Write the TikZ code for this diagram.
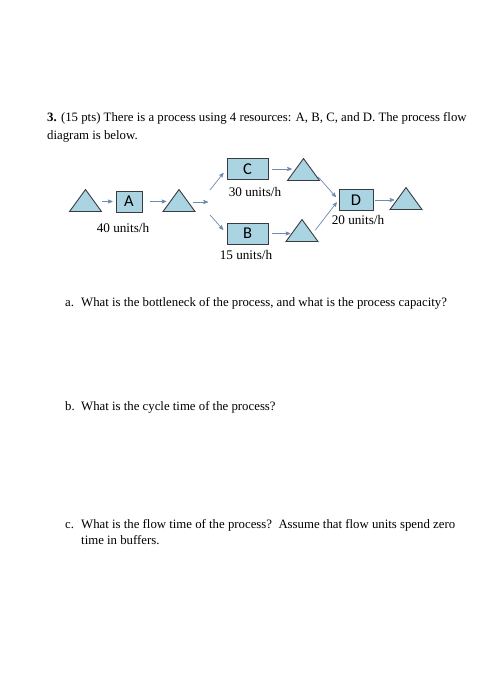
\documentclass[tikz,border=0pt]{standalone}
\usepackage{fontspec}
\setmainfont{Liberation Serif}
\newfontfamily\boxfont{Carlito}
\usetikzlibrary{arrows, positioning, shapes.geometric}
\definecolor{bufferblue}{RGB}{170,212,226}
\definecolor{flowblue}{RGB}{112,138,176}
\definecolor{edgegray}{RGB}{55,60,65}

\begin{document}
\begin{tikzpicture}[x=1pt,y=-1pt,>=stealth',font=\fontsize{12.8}{14.5}\selectfont]
  \tikzstyle{every node}=[inner sep=0pt]
  \tikzstyle{buffer}=[isosceles triangle,shape border rotate=90,isosceles triangle stretches,
    minimum width=32pt,minimum height=22pt,fill=bufferblue,draw=edgegray,line width=0.9pt,anchor=south]
  \tikzstyle{resource}=[rectangle,fill=bufferblue,draw=edgegray,line width=0.9pt,
    minimum height=21pt,font=\boxfont\fontsize{16.5}{16.5}\selectfont]
  \tikzstyle{rate}=[font=\fontsize{13.2}{14}\selectfont]
  \tikzstyle{flow}=[->,draw=flowblue,line width=0.7pt]

  \fill[white] (0,0) rectangle (501,700);
  \useasboundingbox (0,0) rectangle (501,700);

  % question
  \node[anchor=west] (title1) at (47,118) {\textbf{3.} (15 pts) There is a process using 4 resources: A, B, C, and D. The process flow};
  \node[anchor=west] (title2) at (47,136) {diagram is below.};

  % process flow
  \node[buffer]                      (t1) at (85.5,212) {};
  \node[resource,minimum width=26pt] (A)  at (129,201.5) {A};
  \node[buffer]                      (t2) at (179,212) {};
  \node[resource,minimum width=41pt] (C)  at (247.5,169) {C};
  \node[resource,minimum width=41pt] (B)  at (247.5,233.5) {B};
  \node[buffer]                      (t3) at (303.5,181) {};
  \node[buffer]                      (t4) at (302,242) {};
  \node[resource,minimum width=34pt] (D)  at (356,200) {D};
  \node[buffer]                      (t5) at (406,210) {};

  \node[rate] (rA) at (123,228) {40 units/h};
  \node[rate] (rC) at (255,192) {30 units/h};
  \node[rate] (rB) at (246,255) {15 units/h};
  \node[rate] (rD) at (358,220) {20 units/h};

  \coordinate (fork)  at (208,202);
  \coordinate (upft)  at (210,190);
  \coordinate (dnft)  at (210,215);

  \draw[flow,shorten <=6pt,shorten >=3pt] (t1.east |- A) -- (A);
  \draw[flow,shorten <=8pt,shorten >=2pt] (A.east) -- (t2.west |- A);
  \draw[flow,shorten <=3pt] (t2.east |- fork) -- (fork);
  \draw[flow,shorten >=5pt] (upft) -- (C.west);
  \draw[flow,shorten >=5pt] (dnft) -- (B.west);
  \draw[flow,shorten <=4pt,shorten >=1pt] (C.east) -- (t3.west |- C);
  \draw[flow,shorten <=4pt,shorten >=1pt] (B.east) -- (t4.west |- B);
  \draw[flow,shorten <=6pt,shorten >=4pt] (t3.east) -- (D.west);
  \draw[flow,shorten <=4pt,shorten >=3pt] (t4.east) -- (D.west);
  \draw[flow,shorten <=2pt,shorten >=1pt] (D.east) -- (t5.west |- D);

  % parts
  \node[anchor=west] (qa)  at (65,303) {\makebox[16pt][l]{a.}What is the bottleneck of the process, and what is the process capacity?};
  \node[anchor=west] (qb)  at (65,407) {\makebox[16pt][l]{b.}What is the cycle time of the process?};
  \node[anchor=west] (qc1) at (65,525) {\makebox[16pt][l]{c.}What is the flow time of the process?\ \ Assume that flow units spend zero};
  \node[anchor=west] (qc2) at (81,540) {time in buffers.};
\end{tikzpicture}
\end{document}
